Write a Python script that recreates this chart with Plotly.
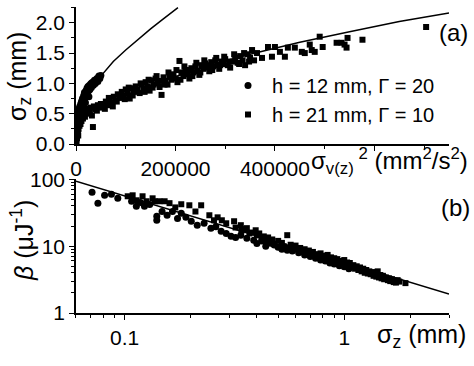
import plotly.graph_objects as go

# ---------------- data ----------------
# panel (a): sigma_v(z)^2 (mm^2/s^2) vs sigma_z (mm)
a_h12_x = [300, 800, 1200, 1500, 2000, 2500, 3000, 3500, 4000, 4500, 5000, 5500, 6000, 7000, 7500,
           8000, 9000, 9500, 10000, 11000, 12000, 12500, 13000, 14000, 15000, 15500, 16000, 17000,
           18000, 19000, 20000, 21000, 22000, 23000, 24000, 25000, 26000, 27000, 28000, 30000, 31000,
           33000, 35000, 37000, 39000, 42000, 44000, 46000, 48000, 50000]
a_h12_y = [0.12, 0.25, 0.38, 0.18, 0.45, 0.30, 0.52, 0.22, 0.40, 0.55, 0.33, 0.48, 0.58, 0.42, 0.62,
           0.52, 0.45, 0.66, 0.58, 0.70, 0.50, 0.62, 0.75, 0.68, 0.60, 0.80, 0.72, 0.85,
           0.76, 0.68, 0.88, 0.80, 0.92, 0.84, 0.95, 0.88, 0.78, 0.97, 0.90, 1.00, 0.93,
           1.02, 0.97, 1.05, 1.00, 1.08, 1.03, 1.12, 1.08, 1.13]

a_h21_x = [200, 600, 1000, 1500, 2000, 2500, 3000, 4000, 4500, 5000, 6000, 7000, 8000, 9000, 10000,
           11000, 12000, 14000, 16000, 18000, 20000, 22000, 25000, 28000, 30000, 32000, 34000, 36000,
           40000, 44000, 48000, 52000, 56000, 60000, 64000, 68000, 72000, 76000, 80000, 84000, 88000,
           92000, 96000, 100000, 104000, 108000, 112000, 116000, 120000, 124000, 128000, 132000,
           136000, 140000, 144000, 148000, 152000, 156000, 160000, 164000, 168000, 172000, 176000,
           180000, 184000, 188000, 192000, 196000, 200000, 204000, 208000, 212000, 216000, 220000,
           224000, 228000, 232000, 236000, 240000, 244000, 248000, 252000, 256000, 260000, 264000,
           268000, 272000, 276000, 280000, 284000, 288000, 292000, 296000, 300000, 305000, 310000,
           315000, 320000, 325000, 330000, 335000, 340000, 345000, 350000, 354000, 358000, 364000,
           374000, 386000, 394000, 400000, 410000, 420000, 426000, 440000, 454000, 460000, 470000,
           474000, 480000, 490000, 496000, 524000, 534000, 540000, 544000, 546000, 576000, 704000,
           42000, 50000, 58000, 66000, 74000, 82000, 90000, 98000, 106000, 114000, 122000, 130000,
           138000, 146000, 154000, 162000, 170000, 178000, 186000, 194000, 202000, 210000, 218000,
           226000, 234000, 242000, 250000, 258000, 266000, 274000, 282000, 290000, 298000, 308000,
           318000, 328000, 338000, 348000]
a_h21_y = [0.03, 0.08, 0.05, 0.15, 0.10, 0.22, 0.18, 0.28, 0.14, 0.25, 0.35, 0.30, 0.40, 0.33, 0.45,
           0.38, 0.48, 0.42, 0.50, 0.45, 0.55, 0.50, 0.58, 0.52, 0.60, 0.47, 0.28, 0.62,
           0.57, 0.64, 0.60, 0.66, 0.62, 0.70, 0.64, 0.72, 0.68, 0.78, 0.72, 0.82, 0.76,
           0.86, 0.80, 0.90, 0.84, 0.75, 0.92, 0.87, 0.95, 0.90, 0.84, 0.98,
           0.92, 1.02, 0.95, 0.88, 1.05, 0.98, 1.08, 1.00, 0.94, 0.81, 1.10,
           1.04, 0.98, 1.12, 1.06, 1.15, 1.08, 1.02, 1.37, 1.18, 1.12, 1.22,
           1.15, 1.08, 1.25, 1.18, 1.28, 1.20, 1.14, 1.30, 1.24, 1.33, 1.26,
           1.20, 1.35, 1.28, 1.38, 1.30, 1.24, 1.36, 1.32, 1.40, 1.30, 1.26,
           1.36, 1.42, 1.34, 1.45, 1.38, 1.30, 1.48, 1.42, 1.55, 1.38, 1.50,
           1.42, 1.60, 1.44, 1.60, 1.52, 1.44, 1.59, 1.59, 1.52, 1.50, 1.64,
           1.55, 1.52, 1.77, 1.60, 1.67, 1.67, 1.64, 1.59, 1.75, 1.72, 1.93,
           0.55, 0.66, 0.58, 0.76, 0.62, 0.70, 0.78, 0.74, 0.93, 0.80, 0.86, 1.00,
           0.86, 1.06, 0.93, 1.12, 1.04, 0.98, 1.18, 1.10, 1.22, 1.06, 1.28,
           1.22, 1.12, 1.34, 1.18, 1.38, 1.30, 1.22, 1.42, 1.30, 1.44, 1.36,
           1.48, 1.32, 1.50, 1.36]

fit_a1_x = [20000, 35000, 50000, 75000, 100000, 125000, 150000, 175000, 205000]
fit_a1_y = [0.70, 0.93, 1.12, 1.36, 1.55, 1.73, 1.90, 2.06, 2.25]
fit_a2_x = [150000, 250000, 350000, 450000, 550000, 650000, 750000]
fit_a2_y = [0.97, 1.25, 1.48, 1.68, 1.85, 2.02, 2.16]

# panel (b): sigma_z (mm) vs beta (uJ^-1)
b_h12_x = [0.071, 0.0755, 0.081, 0.087, 0.093, 0.1075, 0.113, 0.118, 0.123, 0.130, 0.140, 0.140,
           0.148, 0.156, 0.165, 0.174, 0.181, 0.190, 0.201, 0.214, 0.230, 0.247, 0.260, 0.275,
           0.29, 0.305, 0.32, 0.338, 0.36, 0.387, 0.40, 0.421, 0.439, 0.462, 0.48, 0.50, 0.52,
           0.55, 0.58, 0.62, 0.66, 0.70, 0.74, 0.78, 0.82, 0.86, 0.90, 0.95, 1.0, 1.05]
b_h12_y = [64, 44, 58, 60, 52, 47, 39.5, 45, 39.5, 42, 28, 24.4,
           33, 29, 33, 26, 31, 27, 23.6, 20.6, 22, 18.6, 19.5, 16.7,
           15.5, 14.1, 13.5, 14.6, 13.1, 12.3, 11, 11.9, 10, 11.1, 10.4, 9.6, 9.0,
           8.7, 8.5, 8.0, 7.4, 7.0, 6.6, 6.2, 6.0, 5.6, 5.4, 5.1, 4.9, 4.6]

b_h21_x = [0.1032, 0.1087, 0.1133, 0.1206, 0.1258, 0.134, 0.137, 0.144, 0.152, 0.16, 0.17, 0.181,
           0.197, 0.21, 0.223, 0.243, 0.255, 0.265, 0.277, 0.29, 0.315, 0.338, 0.35, 0.36, 0.38,
           0.395, 0.41, 0.43, 0.45, 0.47, 0.50, 0.52, 0.55, 0.57, 0.60, 0.63, 0.66, 0.69, 0.72,
           0.75, 0.78, 0.81, 0.84, 0.87, 0.90, 0.93, 0.96, 1.0, 1.03, 1.06, 1.1, 1.14, 1.18, 1.22,
           1.26, 1.3, 1.34, 1.38, 1.42, 1.46, 1.5, 1.55, 1.6, 1.65, 1.7, 1.75, 1.9,
           0.32, 0.34, 0.37, 0.40, 0.42, 0.44, 0.46, 0.48, 0.53, 0.56, 0.59, 0.62, 0.65, 0.68,
           0.71, 0.74, 0.77, 0.8, 0.83, 0.86, 0.89, 0.92, 0.95, 0.98, 1.02, 1.08, 1.12, 1.16,
           1.2, 1.24, 1.28, 1.32, 1.36, 1.4, 1.44, 1.48, 1.52, 1.58, 1.62, 1.68, 1.72, 1.78]
b_h21_y = [55.8, 57.7, 48.6, 55.8, 47, 52, 47, 47, 47, 44, 38, 42.4,
           40.9, 33, 40.9, 29, 24.4, 27, 24.4, 22, 23.6, 20.6, 18, 18.6, 16,
           17.3, 15.5, 14, 13.5, 12.6, 12, 11.2, 14.6, 10.5, 10.2, 9.4, 9.0, 8.6, 8.2,
           7.6, 7.8, 7.2, 7.4, 6.8, 6.6, 6.4, 6.0, 6.2, 5.7, 5.6, 5.2, 5.0, 4.8, 4.6,
           4.4, 4.2, 4.1, 3.9, 4.2, 3.7, 3.6, 3.4, 3.3, 3.2, 3.0, 3.1, 2.8,
           19, 17, 15.5, 14.5, 12.8, 12, 11.5, 10.8, 10, 9.5, 9, 8.6, 8.2, 7.8,
           7.5, 7.1, 6.8, 6.6, 6.3, 6.1, 5.9, 5.7, 5.5, 5.3, 5.1, 4.9, 4.6, 4.4,
           4.2, 4.0, 3.9, 3.8, 3.6, 3.5, 3.4, 3.3, 3.2, 3.1, 3.0, 2.9, 2.85, 2.95]

fit_b_x = [0.06, 3.0]
fit_b_y = [94, 1.92]

name_h12 = "h = 12 mm, \u0393 = 20"
name_h21 = "h = 21 mm, \u0393 = 10"

# ---------------- layout helpers ----------------
W, H = 474, 366
ML, MR, MT, MB = 76, 25, 7, 53
PW, PH = W - ML - MR, H - MT - MB


def PX(px):
    return (px - ML) / PW


def PY(py):
    return (H - MB - py) / PH


FONT = "Arial, Liberation Sans, sans-serif"
BLACK = "black"

fig = go.Figure()

# panel (a)
fig.add_trace(go.Scatter(x=fit_a1_x, y=fit_a1_y, mode="lines", line=dict(color=BLACK, width=1.5),
                         showlegend=False, xaxis="x", yaxis="y"))
fig.add_trace(go.Scatter(x=fit_a2_x, y=fit_a2_y, mode="lines", line=dict(color=BLACK, width=1.5),
                         showlegend=False, xaxis="x", yaxis="y"))
fig.add_trace(go.Scatter(x=a_h12_x, y=a_h12_y, mode="markers", name=name_h12,
                         marker=dict(symbol="circle", size=7, color=BLACK), xaxis="x", yaxis="y"))
fig.add_trace(go.Scatter(x=a_h21_x, y=a_h21_y, mode="markers", name=name_h21,
                         marker=dict(symbol="square", size=6, color=BLACK), xaxis="x", yaxis="y"))

# panel (b)
fig.add_trace(go.Scatter(x=fit_b_x, y=fit_b_y, mode="lines", line=dict(color=BLACK, width=1.5),
                         showlegend=False, xaxis="x2", yaxis="y2"))
fig.add_trace(go.Scatter(x=b_h12_x, y=b_h12_y, mode="markers", showlegend=False,
                         marker=dict(symbol="circle", size=7, color=BLACK), xaxis="x2", yaxis="y2"))
fig.add_trace(go.Scatter(x=b_h21_x, y=b_h21_y, mode="markers", showlegend=False,
                         marker=dict(symbol="square", size=6, color=BLACK), xaxis="x2", yaxis="y2"))

axis_common = dict(showline=True, linecolor=BLACK, linewidth=1.5, ticks="outside", ticklen=5,
                   tickwidth=1.2, tickcolor=BLACK, showgrid=False, zeroline=False, mirror=False,
                   automargin=False,
                   tickfont=dict(family=FONT, size=21, color=BLACK))

top_dom = [PY(144), 1.0]
bot_dom = [0.0, PY(179)]

fig.update_layout(
    width=W, height=H,
    margin=dict(l=ML, r=MR, t=MT, b=MB),
    paper_bgcolor="white", plot_bgcolor="white",
    font=dict(family=FONT, color=BLACK),
    xaxis=dict(axis_common, domain=[0, 1], anchor="y", range=[0, 750000],
               tickmode="array", tickvals=[0, 200000, 400000, 600000],
               ticktext=["0", "200000", "400000", ""],
               minor=dict(ticks="outside", ticklen=3, tickwidth=1.2, tickcolor=BLACK,
                          tickmode="array", tickvals=[100000, 300000, 500000, 700000])),
    yaxis=dict(axis_common, domain=top_dom, anchor="x", range=[0, 2.26],
               tickmode="array", tickvals=[0, 0.5, 1.0, 1.5, 2.0],
               ticktext=["0.0", "0.5", "1.0", "1.5", "2.0"],
               minor=dict(ticks="outside", ticklen=3, tickwidth=1.2, tickcolor=BLACK,
                          tickmode="array", tickvals=[0.25, 0.75, 1.25, 1.75, 2.25])),
    xaxis2=dict(axis_common, domain=[0, 1], anchor="y2", type="log",
                range=[-1.2218, 0.4771],
                tickmode="array", tickvals=[0.1, 1], ticktext=["0.1", "1"],
                minor=dict(ticks="outside", ticklen=3, tickwidth=1.2, tickcolor=BLACK,
                           tickmode="array",
                           tickvals=[0.06, 0.07, 0.08, 0.09, 0.2, 0.3, 0.4, 0.5, 0.6, 0.7,
                                     0.8, 0.9, 2, 3])),
    yaxis2=dict(axis_common, domain=bot_dom, anchor="x2", type="log", range=[0, 2.005],
                tickmode="array", tickvals=[1, 10, 100], ticktext=["1", "10", "100"],
                minor=dict(ticks="outside", ticklen=3, tickwidth=1.2, tickcolor=BLACK,
                           tickmode="array",
                           tickvals=[2, 3, 4, 5, 6, 7, 8, 9, 20, 30, 40, 50, 60, 70, 80, 90])),
    legend=dict(x=PX(224), y=PY(66), xanchor="left", yanchor="top",
                bgcolor="rgba(0,0,0,0)", borderwidth=0,
                font=dict(family=FONT, size=20, color=BLACK), tracegroupgap=0,
                itemwidth=38),
    showlegend=True,
)

ann = []
ann.append(dict(text="\u03c3<sub>z</sub> (mm)", x=PX(19), y=PY(77), xref="paper", yref="paper",
                textangle=-90, showarrow=False, xanchor="center", yanchor="middle",
                font=dict(family=FONT, size=25, color=BLACK)))
ann.append(dict(text="<i>\u03b2</i> (\u03bcJ<sup>-1</sup>)", x=PX(22), y=PY(240), xref="paper",
                yref="paper", textangle=-90, showarrow=False, xanchor="center", yanchor="middle",
                font=dict(family=FONT, size=25, color=BLACK)))
ann.append(dict(text="\u03c3<sub>v(z)</sub><sup> 2</sup> (mm<sup>2</sup>/s<sup>2</sup>)",
                x=PX(309), y=PY(161), xref="paper", yref="paper", showarrow=False,
                xanchor="left", yanchor="middle", font=dict(family=FONT, size=24, color=BLACK)))
ann.append(dict(text="\u03c3<sub>z</sub> (mm)", x=PX(468), y=PY(336), xref="paper", yref="paper",
                showarrow=False, xanchor="right", yanchor="middle",
                font=dict(family=FONT, size=25, color=BLACK)))
ann.append(dict(text="(a)", x=PX(453), y=PY(32), xref="paper", yref="paper", showarrow=False,
                xanchor="center", yanchor="middle", font=dict(family=FONT, size=24, color=BLACK)))
ann.append(dict(text="(b)", x=PX(455), y=PY(207), xref="paper", yref="paper", showarrow=False,
                xanchor="center", yanchor="middle", font=dict(family=FONT, size=24, color=BLACK)))
fig.update_layout(annotations=ann)

fig.write_html("out.html", config={"displayModeBar": False},
               post_script="document.body.style.margin='0';document.body.style.padding='0';")
